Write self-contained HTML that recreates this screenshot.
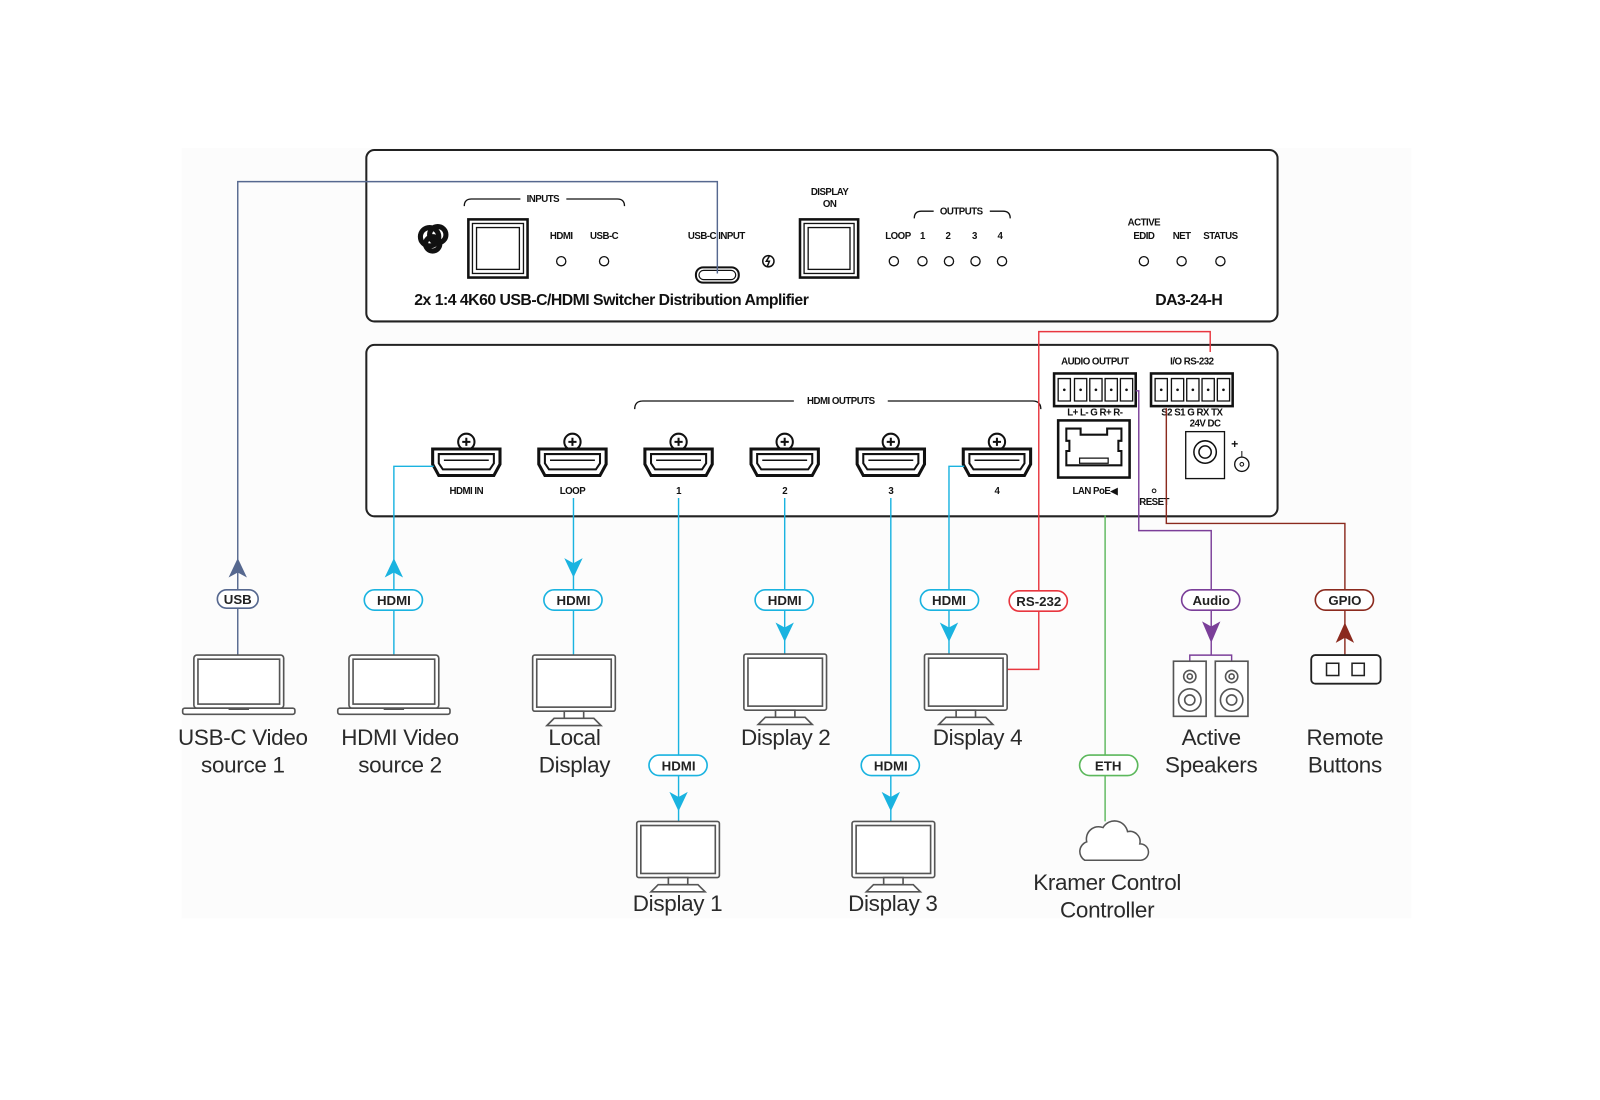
<!DOCTYPE html>
<html><head><meta charset="utf-8"><style>
html,body{margin:0;padding:0;background:#fff;}
svg{display:block}
text{font-family:"Liberation Sans",sans-serif}
.lab{font-size:9.5px;font-weight:bold;fill:#111;text-anchor:middle;letter-spacing:-0.5px}
.big{font-size:22px;fill:#2a2a2a;text-anchor:middle;letter-spacing:-0.3px}
.pill{font-size:13px;font-weight:bold;fill:#222;text-anchor:middle}
.dev{fill:#fff;stroke:#555;stroke-width:1.6}
</style></head><body>
<svg width="1600" height="1100" viewBox="0 0 1568 1078" xmlns="http://www.w3.org/2000/svg">
<defs>
<g id="mon">
<rect x="0" y="0" width="81" height="55" rx="2" class="dev"/>
<rect x="4" y="4" width="73" height="47" class="dev"/>
<rect x="31" y="55" width="19" height="7" class="dev"/>
<path d="M14,69 L21,62 L60,62 L67,69 Z" class="dev"/>
</g>
<g id="lap">
<rect x="0" y="0" width="88" height="52" rx="3" class="dev"/>
<rect x="4" y="4" width="80" height="44" class="dev"/>
<rect x="-11" y="52" width="110" height="6" rx="2" class="dev"/>
<line x1="34" y1="53" x2="54" y2="53" stroke="#555" stroke-width="1.5"/>
</g>
<g id="port">
<circle cx="0" cy="-22" r="8" fill="#fff" stroke="#111" stroke-width="2"/>
<path d="M-4,-22h8M0,-26v8" stroke="#111" stroke-width="2"/>
<path d="M-33,-15 h66 v15 l-6,11 h-54 l-6,-11 z" fill="#fff" stroke="#111" stroke-width="3"/>
<path d="M-27,-10 h54 v9 l-4,6 h-46 l-4,-6 z" fill="none" stroke="#111" stroke-width="2"/>
<line x1="-22" y1="-4" x2="22" y2="-4" stroke="#111" stroke-width="1.5"/>
</g>
<g id="conn">
<rect x="0" y="0" width="80" height="32" fill="#fff" stroke="#111" stroke-width="2.5"/>
<g fill="none" stroke="#111" stroke-width="1.3">
<path d="M4,5h12v22h-12z M20,5h12v22h-12z M35,5h12v22h-12z M50,5h12v22h-12z M65,5h12v22h-12z"/>
</g>
<g fill="#111"><circle cx="10" cy="16" r="1.3"/><circle cx="26" cy="16" r="1.3"/><circle cx="41" cy="16" r="1.3"/><circle cx="56" cy="16" r="1.3"/><circle cx="71" cy="16" r="1.3"/></g>
</g>
</defs>
<rect x="178" y="145" width="1205" height="755" fill="#fcfcfc"/>

<!-- front panel -->
<rect x="359" y="147" width="893" height="168" rx="8" fill="#fff" stroke="#222" stroke-width="2"/>
<g fill="none" stroke="#111" stroke-width="5"><circle cx="421" cy="232" r="9"/><circle cx="429" cy="230" r="8"/><circle cx="424" cy="239" r="7"/></g>
<path d="M455,202 q0,-7 7,-7 h48 M555,195 h50 q7,0 7,7" fill="none" stroke="#111" stroke-width="1.3"/>
<text x="532" y="198" class="lab">INPUTS</text>
<rect x="459" y="215" width="58" height="57" fill="#fff" stroke="#111" stroke-width="2.5"/>
<rect x="463" y="219" width="50" height="49" fill="none" stroke="#111" stroke-width="1.3"/>
<rect x="467" y="223" width="42" height="41" fill="none" stroke="#111" stroke-width="1.3"/>
<text x="550" y="234" class="lab">HDMI</text><text x="592" y="234" class="lab">USB-C</text>
<g fill="#fff" stroke="#111" stroke-width="1.3">
<circle cx="550" cy="256" r="4.5"/><circle cx="592" cy="256" r="4.5"/>
<circle cx="876" cy="256" r="4.5"/><circle cx="904" cy="256" r="4.5"/><circle cx="930" cy="256" r="4.5"/><circle cx="956" cy="256" r="4.5"/><circle cx="982" cy="256" r="4.5"/>
<circle cx="1121" cy="256" r="4.5"/><circle cx="1158" cy="256" r="4.5"/><circle cx="1196" cy="256" r="4.5"/>
</g>
<text x="702" y="234" class="lab">USB-C INPUT</text>
<rect x="682" y="262" width="42" height="15" rx="7" fill="#fff" stroke="#111" stroke-width="2"/>
<rect x="685" y="265" width="36" height="9" rx="4.5" fill="none" stroke="#111" stroke-width="1.2"/>
<circle cx="753" cy="256" r="5.5" fill="#fff" stroke="#111" stroke-width="1.5"/>
<path d="M754,251 l-3,5 h3 l-2,5" stroke="#111" stroke-width="1.5" fill="none"/>
<text x="813" y="191" class="lab">DISPLAY</text><text x="813" y="203" class="lab">ON</text>
<rect x="784" y="215" width="57" height="57" fill="#fff" stroke="#111" stroke-width="2.5"/>
<rect x="788" y="219" width="49" height="49" fill="none" stroke="#111" stroke-width="1.3"/>
<rect x="792" y="223" width="41" height="41" fill="none" stroke="#111" stroke-width="1.3"/>
<path d="M896,214 q0,-7 7,-7 h12 M970,207 h13 q7,0 7,7" fill="none" stroke="#111" stroke-width="1.3"/>
<text x="942" y="210" class="lab">OUTPUTS</text>
<text x="880" y="234" class="lab">LOOP</text><text x="904" y="234" class="lab">1</text><text x="929" y="234" class="lab">2</text><text x="955" y="234" class="lab">3</text><text x="980" y="234" class="lab">4</text>
<text x="1121" y="221" class="lab">ACTIVE</text><text x="1121" y="234" class="lab">EDID</text><text x="1158" y="234" class="lab">NET</text><text x="1196" y="234" class="lab">STATUS</text>
<text x="406" y="299" style="font-size:15.5px;font-weight:bold;fill:#111;letter-spacing:-0.5px">2x 1:4 4K60 USB-C/HDMI Switcher Distribution Amplifier</text>
<text x="1165" y="299" style="font-size:15.5px;font-weight:bold;fill:#111;text-anchor:middle;letter-spacing:-0.5px">DA3-24-H</text>

<!-- rear panel -->
<rect x="359" y="338" width="893" height="168" rx="8" fill="#fff" stroke="#222" stroke-width="2"/>
<path d="M622,401 q0,-8 8,-8 h148 M870,393 h142 q8,0 8,8" fill="none" stroke="#111" stroke-width="1.3"/>
<text x="824" y="396" class="lab">HDMI OUTPUTS</text>
<use href="#port" x="457" y="455"/><use href="#port" x="561" y="455"/><use href="#port" x="665" y="455"/><use href="#port" x="769" y="455"/><use href="#port" x="873" y="455"/><use href="#port" x="977" y="455"/>
<text x="457" y="484" class="lab">HDMI IN</text><text x="561" y="484" class="lab">LOOP</text><text x="665" y="484" class="lab">1</text><text x="769" y="484" class="lab">2</text><text x="873" y="484" class="lab">3</text><text x="977" y="484" class="lab">4</text>
<text x="1073" y="357" class="lab">AUDIO OUTPUT</text><text x="1168" y="357" class="lab">I/O RS-232</text>
<use href="#conn" x="1033" y="366"/><use href="#conn" x="1128" y="366"/>
<text x="1073" y="407" class="lab">L+ L- G R+ R-</text><text x="1168" y="407" class="lab">S2 S1 G RX TX</text>
<text x="1181" y="418" class="lab">24V DC</text>
<rect x="1037" y="412" width="70" height="56" fill="#fff" stroke="#111" stroke-width="2.5"/>
<path d="M1045,420 h14 v6 h26 v-6 h14 v12 h-3 v10 h3 v14 h-54 v-14 h3 v-10 h-3 z" fill="none" stroke="#111" stroke-width="2"/>
<path d="M1058,449 h28 v5 h-28z" fill="none" stroke="#111" stroke-width="1.2"/>
<text x="1073" y="484" class="lab">LAN PoE◀</text>
<circle cx="1131" cy="481" r="1.8" fill="none" stroke="#111"/>
<text x="1131" y="495" class="lab">RESET</text>
<rect x="1162" y="423" width="38" height="46" fill="#fff" stroke="#111" stroke-width="1.3"/>
<circle cx="1181" cy="443" r="11" fill="none" stroke="#111" stroke-width="1.5"/><circle cx="1181" cy="443" r="6" fill="none" stroke="#111" stroke-width="1.5"/>
<text x="1210" y="439" style="font-size:12px;font-weight:bold;fill:#111;text-anchor:middle">+</text>
<line x1="1217" y1="442" x2="1217" y2="448" stroke="#111"/>
<circle cx="1217" cy="455" r="7" fill="none" stroke="#111" stroke-width="1.3"/><circle cx="1217" cy="455" r="1.8" fill="none" stroke="#111"/>

<!-- connectors -->
<g fill="none" stroke-width="1.4">
<path d="M233,643 V178 H703 V268" stroke="#56688f"/>
<path d="M386,643 V457 H425" stroke="#1ab3e0"/>
<path d="M562,488 V645" stroke="#1ab3e0"/>
<path d="M665,488 V808" stroke="#1ab3e0"/>
<path d="M769,488 V645" stroke="#1ab3e0"/>
<path d="M873,488 V808" stroke="#1ab3e0"/>
<path d="M945,457 H930 V645" stroke="#1ab3e0"/>
<path d="M987,656 H1018 V325 H1186 V345" stroke="#e8363f"/>
<path d="M1083,505 V805" stroke="#5cb85c"/>
<path d="M1113,383 H1116 V520 H1187 V642 M1166,649 V642 H1207 V649" stroke="#7b3f99"/>
<path d="M1143,400 V513 H1318 V645" stroke="#8b2a1e"/>
</g>
<!-- arrows -->
<path d="M233,547 L242,566 L233,561 L224,566 Z" fill="#56688f"/>
<path d="M386,547 L395,566 L386,561 L377,566 Z" fill="#1ab3e0"/>
<path d="M562,566 L571,547 L562,552 L553,547 Z" fill="#1ab3e0"/>
<path d="M769,629 L778,610 L769,615 L760,610 Z" fill="#1ab3e0"/>
<path d="M930,629 L939,610 L930,615 L921,610 Z" fill="#1ab3e0"/>
<path d="M665,795 L674,776 L665,781 L656,776 Z" fill="#1ab3e0"/>
<path d="M873,795 L882,776 L873,781 L864,776 Z" fill="#1ab3e0"/>
<path d="M1187,630 L1196,609 L1187,614 L1178,609 Z" fill="#7b3f99"/>
<path d="M1318,610 L1327,630 L1318,625 L1309,630 Z" fill="#8b2a1e"/>
<!-- pills -->
<g stroke-width="1.6" fill="#fff">
<rect x="213" y="578" width="40" height="18" rx="9" stroke="#56688f"/>
<rect x="357" y="578" width="57" height="20" rx="10" stroke="#1ab3e0"/>
<rect x="533" y="578" width="57" height="20" rx="10" stroke="#1ab3e0"/>
<rect x="740" y="578" width="57" height="20" rx="10" stroke="#1ab3e0"/>
<rect x="902" y="578" width="57" height="20" rx="10" stroke="#1ab3e0"/>
<rect x="636" y="740" width="57" height="20" rx="10" stroke="#1ab3e0"/>
<rect x="844" y="740" width="57" height="20" rx="10" stroke="#1ab3e0"/>
<rect x="989" y="579" width="57" height="20" rx="10" stroke="#e8363f"/>
<rect x="1158" y="578" width="57" height="20" rx="10" stroke="#7b3f99"/>
<rect x="1289" y="578" width="57" height="20" rx="10" stroke="#8b2a1e"/>
<rect x="1058" y="740" width="57" height="20" rx="10" stroke="#5cb85c"/>
</g>
<text x="233" y="592" class="pill">USB</text>
<text x="386" y="593" class="pill">HDMI</text><text x="562" y="593" class="pill">HDMI</text><text x="769" y="593" class="pill">HDMI</text><text x="930" y="593" class="pill">HDMI</text>
<text x="665" y="755" class="pill">HDMI</text><text x="873" y="755" class="pill">HDMI</text>
<text x="1018" y="594" class="pill">RS-232</text><text x="1187" y="593" class="pill">Audio</text><text x="1318" y="593" class="pill">GPIO</text><text x="1086" y="755" class="pill">ETH</text>

<!-- devices -->
<use href="#lap" x="190" y="642"/><use href="#lap" x="342" y="642"/>
<use href="#mon" x="522" y="642"/><use href="#mon" x="729" y="641"/><use href="#mon" x="906" y="641"/>
<use href="#mon" x="624" y="805"/><use href="#mon" x="835" y="805"/>
<g class="dev">
<rect x="1150" y="648" width="32" height="54" class="dev"/><rect x="1191" y="648" width="32" height="54" class="dev"/>
<circle cx="1166" cy="663" r="6" class="dev"/><circle cx="1166" cy="663" r="2.5" class="dev"/><circle cx="1166" cy="686" r="11" class="dev"/><circle cx="1166" cy="686" r="5" class="dev"/>
<circle cx="1207" cy="663" r="6" class="dev"/><circle cx="1207" cy="663" r="2.5" class="dev"/><circle cx="1207" cy="686" r="11" class="dev"/><circle cx="1207" cy="686" r="5" class="dev"/>
</g>
<rect x="1285" y="642" width="68" height="28" rx="4" fill="#fff" stroke="#222" stroke-width="1.8"/>
<rect x="1300" y="650" width="12" height="12" fill="none" stroke="#222" stroke-width="1.5"/><rect x="1325" y="650" width="12" height="12" fill="none" stroke="#222" stroke-width="1.5"/>
<path d="M1063,843 a10,10 0 0 1 2,-18 a12,12 0 0 1 16,-14 a13,13 0 0 1 24,4 a10,10 0 0 1 12,12 a8,8 0 0 1 1,16 z" fill="#fff" stroke="#555" stroke-width="1.5"/>

<!-- labels -->
<text x="238" y="730" class="big">USB-C Video</text><text x="238" y="757" class="big">source 1</text>
<text x="392" y="730" class="big">HDMI Video</text><text x="392" y="757" class="big">source 2</text>
<text x="563" y="730" class="big">Local</text><text x="563" y="757" class="big">Display</text>
<text x="770" y="730" class="big">Display 2</text>
<text x="958" y="730" class="big">Display 4</text>
<text x="664" y="893" class="big">Display 1</text>
<text x="875" y="893" class="big">Display 3</text>
<text x="1187" y="730" class="big">Active</text><text x="1187" y="757" class="big">Speakers</text>
<text x="1318" y="730" class="big">Remote</text><text x="1318" y="757" class="big">Buttons</text>
<text x="1085" y="872" class="big">Kramer Control</text><text x="1085" y="899" class="big">Controller</text>
</svg>
</body></html>
